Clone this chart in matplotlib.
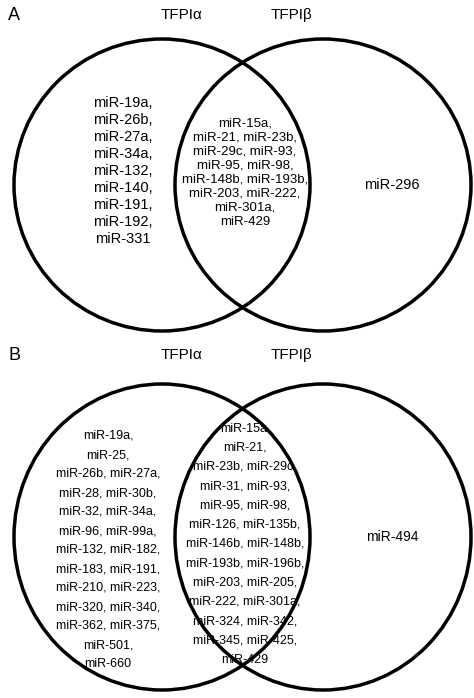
import matplotlib
matplotlib.use("Agg")
import matplotlib.pyplot as plt
from matplotlib.patches import Ellipse

plt.rcParams['font.family'] = ['Liberation Sans', 'DejaVu Sans']

set_labels = ["TFPI\u03b1", "TFPI\u03b2"]
a_left = ["miR-19a,", "miR-26b,", "miR-27a,", "miR-34a,", "miR-132,", "miR-140,", "miR-191,", "miR-192,", "miR-331"]
a_mid = ["miR-15a,", "miR-21, miR-23b,", "miR-29c, miR-93,", "miR-95, miR-98,", "miR-148b, miR-193b,", "miR-203, miR-222,", "miR-301a,", "miR-429"]
a_right = ["miR-296"]
b_left = ["miR-19a,", "miR-25,", "miR-26b, miR-27a,", "miR-28, miR-30b,", "miR-32, miR-34a,", "miR-96, miR-99a,",
          "miR-132, miR-182,", "miR-183, miR-191,", "miR-210, miR-223,", "miR-320, miR-340,", "miR-362, miR-375,",
          "miR-501,", "miR-660"]
b_mid = ["miR-15a,", "miR-21,", "miR-23b, miR-29c,", "miR-31, miR-93,", "miR-95, miR-98,", "miR-126, miR-135b,",
         "miR-146b, miR-148b,", "miR-193b, miR-196b,", "miR-203, miR-205,", "miR-222, miR-301a,", "miR-324, miR-342,",
         "miR-345, miR-425,", "miR-429"]
b_right = ["miR-494"]

fig = plt.figure(figsize=(4.74, 6.98), dpi=100)
ax = fig.add_axes([0, 0, 1, 1])
ax.set_xlim(0, 474); ax.set_ylim(698, 0); ax.axis("off")

def panel(letter, y0, cy, ry, left, mid, right, lfs, mfs, rfs, lsp, msp, lx, ly, my):
    ax.text(8, y0, letter, fontsize=13, va="center", ha="left")
    ax.text(182, y0, set_labels[0], fontsize=11, va="center", ha="center")
    ax.text(292, y0, set_labels[1], fontsize=11, va="center", ha="center")
    for cx in (162, 323):
        ax.add_patch(Ellipse((cx, cy), 296, 2 * ry, fill=False, lw=2.5, ec="black"))
    n = len(left)
    for i, t in enumerate(left):
        ax.text(lx, ly + (i - (n - 1) / 2) * lsp, t, fontsize=lfs, ha="center", va="center")
    n = len(mid)
    for i, t in enumerate(mid):
        ax.text(245, my + (i - (n - 1) / 2) * msp, t, fontsize=mfs, ha="center", va="center")
    ax.text(392, cy, right[0], fontsize=rfs, ha="center", va="center")

panel("A", 15, 185, 146, a_left, a_mid, a_right, 10.5, 9.5, 10.5, 17, 14, 123, 171, 173)
panel("B", 355, 537, 153, b_left, b_mid, b_right, 9, 9, 10, 19, 19.3, 108, 550, 544)
fig.savefig("out.png", dpi=100)
